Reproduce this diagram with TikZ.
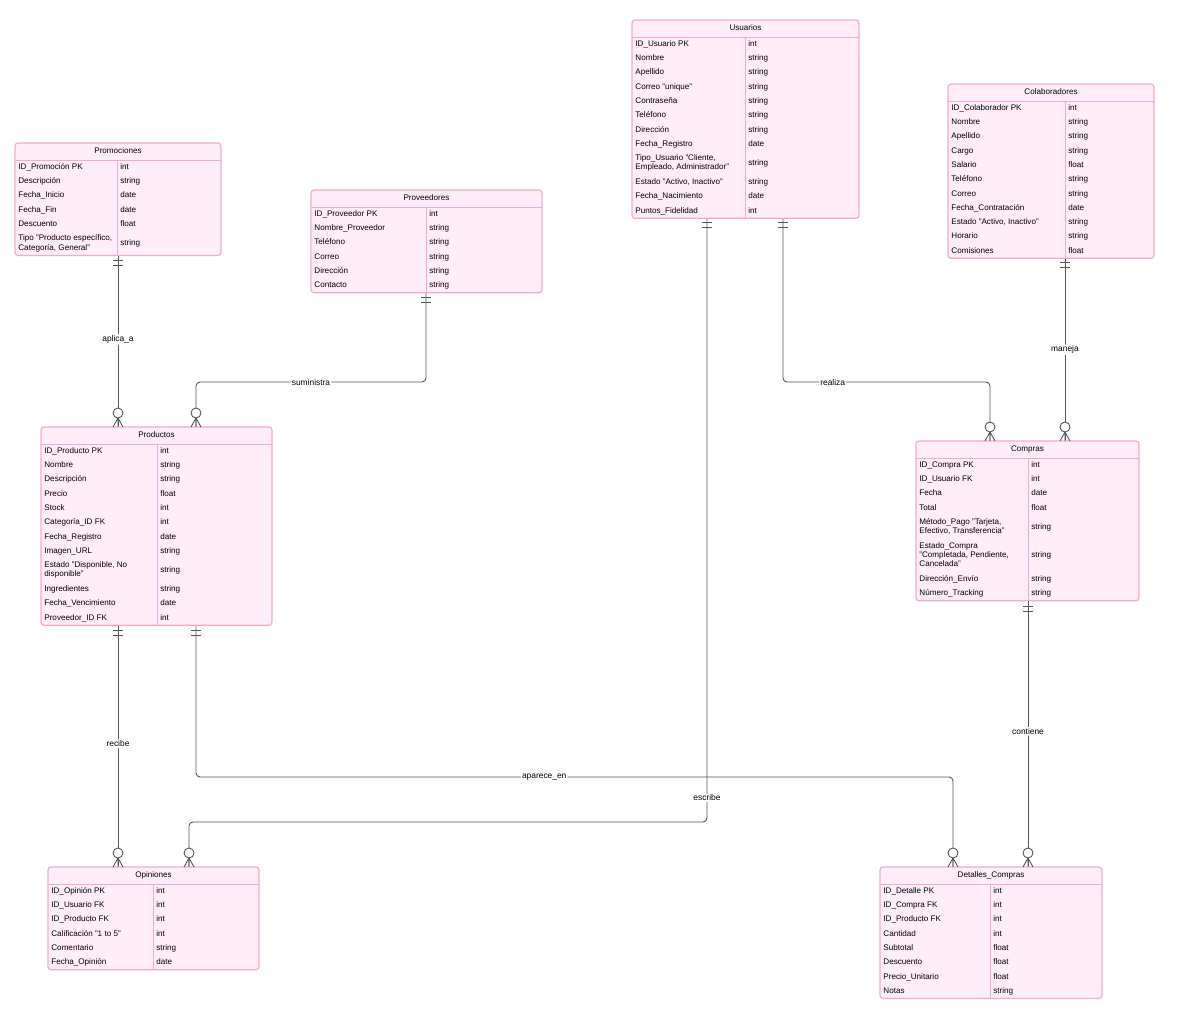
\documentclass[tikz,border=0pt]{standalone}
\usepackage{fontspec}
\setmainfont{Liberation Sans}
\usetikzlibrary{fit}
\definecolor{ebord}{HTML}{F5A9D0}
\definecolor{efill}{HTML}{FFEEF8}
\definecolor{lnk}{HTML}{555555}
\newif\ifEntDraw
\newcommand\EntXl{0}\newcommand\EntXs{0}\newcommand\EntXr{0}\newcommand\EntYc{0}
\newcommand\EntRow[4]{%
  \pgfmathsetmacro\EntYn{\EntYc+#3}%
  \ifEntDraw
  \node[#4,anchor=west] at (\EntXl+3,\EntYc+#3/2) {#1};%
  \node[fld1,anchor=west] at (\EntXs+3,\EntYc+#3/2) {#2};%
  \fi
  \xdef\EntYc{\EntYn}}
\newcommand\R[2]{\EntRow{#1}{#2}{14.3}{fld1}}
\newcommand\RR[2]{\EntRow{\begin{tabular}{@{}l@{}}#1\end{tabular}}{#2}{24}{fld}}
\newcommand\RRR[2]{\EntRow{\begin{tabular}{@{}l@{}}#1\end{tabular}}{#2}{33}{fld}}
\newcommand\Ent[7]{%
  \xdef\EntXl{#2}\xdef\EntXs{#3}\xdef\EntXr{#4}%
  \pgfmathsetmacro\EntH{#5+17}\xdef\EntYc{\EntH}%
  \EntDrawfalse #7%
  \fill[efill,rounded corners=1.5] (#2,#5) rectangle (#4,\EntYc);%
  \draw[ebord,line width=0.45pt] (#2,\EntH) -- (#4,\EntH) (#3,\EntH) -- (#3,\EntYc);%
  \node[draw=ebord,line width=0.6pt,rounded corners=1.5,inner sep=0pt,fit={(#2,#5)(#4,\EntYc)}] (#1) {};%
  \node[fld1] at ({(#2+#4)/2},#5+8.5) {#6};%
  \xdef\EntYc{\EntH}\EntDrawtrue #7}
\begin{document}
\begin{tikzpicture}[x=0.5pt,y=-0.5pt,
  fld/.style={font=\fontsize{4.05}{4.7}\selectfont,inner sep=0pt,text=black,align=left},
  fld1/.style={fld,text height=2.9pt,text depth=0.8pt},
  lk/.style={draw=lnk,line width=0.45pt,rounded corners=2},
  lab/.style={fill=white,font=\fontsize{4.2}{5}\selectfont,inner sep=0.6pt}]
\useasboundingbox (0,0) rectangle (1200,1016);
\fill[white] (0,0) rectangle (1200,1016);
\Ent{usu}{632}{745}{859}{20}{Usuarios}{\R{ID\_Usuario PK}{int}\R{Nombre}{string}\R{Apellido}{string}\R{Correo "unique"}{string}\R{Contraseña}{string}\R{Teléfono}{string}\R{Dirección}{string}\R{Fecha\_Registro}{date}\RR{Tipo\_Usuario "Cliente,\\Empleado, Administrador"}{string}\R{Estado "Activo, Inactivo"}{string}\R{Fecha\_Nacimiento}{date}\R{Puntos\_Fidelidad}{int}}
\Ent{col}{948}{1065}{1154}{84}{Colaboradores}{\R{ID\_Colaborador PK}{int}\R{Nombre}{string}\R{Apellido}{string}\R{Cargo}{string}\R{Salario}{float}\R{Teléfono}{string}\R{Correo}{string}\R{Fecha\_Contratación}{date}\R{Estado "Activo, Inactivo"}{string}\R{Horario}{string}\R{Comisiones}{float}}
\Ent{pro}{15}{117}{221}{143}{Promociones}{\R{ID\_Promoción PK}{int}\R{Descripción}{string}\R{Fecha\_Inicio}{date}\R{Fecha\_Fin}{date}\R{Descuento}{float}\RR{Tipo "Producto específico,\\Categoría, General"}{string}}
\Ent{prv}{311}{426}{542}{190}{Proveedores}{\R{ID\_Proveedor PK}{int}\R{Nombre\_Proveedor}{string}\R{Teléfono}{string}\R{Correo}{string}\R{Dirección}{string}\R{Contacto}{string}}
\Ent{prd}{41}{157}{272}{427}{Productos}{\R{ID\_Producto PK}{int}\R{Nombre}{string}\R{Descripción}{string}\R{Precio}{float}\R{Stock}{int}\R{Categoría\_ID FK}{int}\R{Fecha\_Registro}{date}\R{Imagen\_URL}{string}\RR{Estado "Disponible, No\\disponible"}{string}\R{Ingredientes}{string}\R{Fecha\_Vencimiento}{date}\R{Proveedor\_ID FK}{int}}
\Ent{com}{916}{1028}{1139}{441}{Compras}{\R{ID\_Compra PK}{int}\R{ID\_Usuario FK}{int}\R{Fecha}{date}\R{Total}{float}\RR{Método\_Pago "Tarjeta,\\Efectivo, Transferencia"}{string}\RRR{Estado\_Compra\\"Completada, Pendiente,\\Cancelada"}{string}\R{Dirección\_Envío}{string}\R{Número\_Tracking}{string}}
\Ent{opi}{48}{153}{259}{867}{Opiniones}{\R{ID\_Opinión PK}{int}\R{ID\_Usuario FK}{int}\R{ID\_Producto FK}{int}\R{Calificación "1 to 5"}{int}\R{Comentario}{string}\R{Fecha\_Opinión}{date}}
\Ent{det}{880}{990}{1102}{867}{Detalles\_Compras}{\R{ID\_Detalle PK}{int}\R{ID\_Compra FK}{int}\R{ID\_Producto FK}{int}\R{Cantidad}{int}\R{Subtotal}{float}\R{Descuento}{float}\R{Precio\_Unitario}{float}\R{Notas}{string}}
\newcommand\One[2]{\draw[lnk,line width=0.45pt] (#1-5,#2+4)--(#1+5,#2+4) (#1-5,#2+9)--(#1+5,#2+9);}
\newcommand\Many[2]{\draw[lnk,line width=0.45pt,fill=white] (#1,#2-14) circle[radius=5];
  \draw[lnk,line width=0.45pt] (#1,#2-9)--(#1-5,#2) (#1,#2-9)--(#1,#2) (#1,#2-9)--(#1+5,#2);}
\draw[lk] (pro.south -| 118,0) -- node[lab,pos=0.49]{aplica\_a} (prd.north -| 118,0);
\One{118}{256}\Many{118}{427}
\draw[lk] (prv.south -| 426,0) -- (426,382) -- node[lab]{suministra} (196,382) -- (prd.north -| 196,0);
\One{426}{293}\Many{196}{427}
\draw[lk] (usu.south -| 783,0) -- (783,382) -- node[lab,pos=0.24]{realiza} (990,382) -- (com.north -| 990,0);
\One{783}{218}\Many{990}{441}
\draw[lk] (col.south -| 1065,0) -- node[lab,pos=0.5]{maneja} (com.north -| 1065,0);
\One{1065}{258}\Many{1065}{441}
\draw[lk] (prd.south -| 118,0) -- node[lab,pos=0.49]{recibe} (opi.north -| 118,0);
\One{118}{626}\Many{118}{867}
\draw[lk] (prd.south -| 196,0) -- (196,777) -- node[lab,pos=0.46]{aparece\_en} (953,777) -- (det.north -| 953,0);
\One{196}{626}\Many{953}{867}
\draw[lk] (usu.south -| 707,0) -- node[lab,pos=0.96]{escribe} (707,822) -- (189,822) -- (opi.north -| 189,0);
\One{707}{218}\Many{189}{867}
\draw[lk] (com.south -| 1028,0) -- node[lab,pos=0.49]{contiene} (det.north -| 1028,0);
\One{1028}{602}\Many{1028}{867}
\end{tikzpicture}
\end{document}
